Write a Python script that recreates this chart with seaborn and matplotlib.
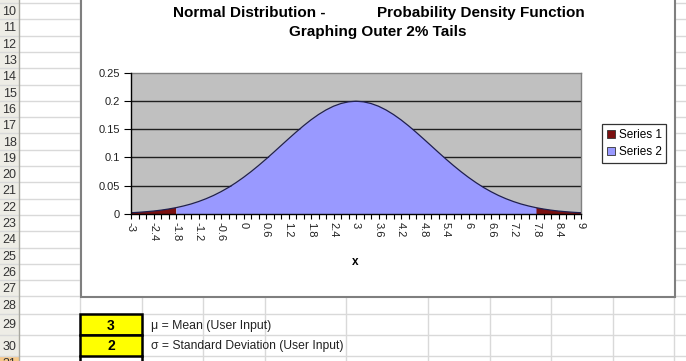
import matplotlib
matplotlib.use("Agg")
import matplotlib.pyplot as plt
import numpy as np
import pandas as pd
import seaborn as sns
from matplotlib.patches import Rectangle, Patch

# --- data ---
x_vals = [-3.0, -2.8, -2.6, -2.4, -2.2, -2.0, -1.8, -1.6, -1.4, -1.2, -1.0,
          -0.8, -0.6, -0.4, -0.2, 0.0, 0.2, 0.4, 0.6, 0.8, 1.0,
          1.2, 1.4, 1.6, 1.8, 2.0, 2.2, 2.4, 2.6, 2.8, 3.0,
          3.2, 3.4, 3.6, 3.8, 4.0, 4.2, 4.4, 4.6, 4.8, 5.0,
          5.2, 5.4, 5.6, 5.8, 6.0, 6.2, 6.4, 6.6, 6.8, 7.0,
          7.2, 7.4, 7.6, 7.8, 8.0, 8.2, 8.4, 8.6, 8.8, 9.0]
density = [0.0022, 0.0030, 0.0040, 0.0052, 0.0068, 0.0088, 0.0112, 0.0142, 0.0177, 0.0220, 0.0270,
           0.0328, 0.0395, 0.0470, 0.0555, 0.0648, 0.0749, 0.0857, 0.0971, 0.1089, 0.1210,
           0.1330, 0.1448, 0.1561, 0.1666, 0.1760, 0.1841, 0.1907, 0.1955, 0.1985, 0.1995,
           0.1985, 0.1955, 0.1907, 0.1841, 0.1760, 0.1666, 0.1561, 0.1448, 0.1330, 0.1210,
           0.1089, 0.0971, 0.0857, 0.0749, 0.0648, 0.0555, 0.0470, 0.0395, 0.0328, 0.0270,
           0.0220, 0.0177, 0.0142, 0.0112, 0.0088, 0.0068, 0.0052, 0.0040, 0.0030, 0.0022]
tail_low = -1.8
tail_high = 7.8
mean_input = 3
sd_input = 2

y_ticks = [0, 0.05, 0.1, 0.15, 0.2, 0.25]
x_tick_labels = [-3, -2.4, -1.8, -1.2, -0.6, 0, 0.6, 1.2, 1.8, 2.4, 3,
                 3.6, 4.2, 4.8, 5.4, 6, 6.6, 7.2, 7.8, 8.4, 9]

df = pd.DataFrame({"x": x_vals, "pdf": density})
df["Series 1"] = df["pdf"].where((df["x"] <= tail_low + 1e-9) | (df["x"] >= tail_high - 1e-9))
df["Series 2"] = df["pdf"].where((df["x"] >= tail_low - 1e-9) & (df["x"] <= tail_high + 1e-9))

plt.rcParams["font.family"] = ["Liberation Sans", "DejaVu Sans"]

W, H = 686, 361
fig = plt.figure(figsize=(W / 100, H / 100), dpi=100)

# --- spreadsheet background, in pixel coordinates ---
bg = fig.add_axes([0, 0, 1, 1])
bg.set_xlim(0, W)
bg.set_ylim(H, 0)
bg.axis("off")

row_edges = [3 + 16.3 * i for i in range(19)] + [314, 335, 356, 375]
grid_c = "#d9d9d9"
bg.add_patch(Rectangle((0, 0), 19, H, facecolor="#eeede6", edgecolor="none", zorder=1))
bg.add_patch(Rectangle((0, row_edges[-2]), 19, 20, facecolor="#f7c98a", edgecolor="none", zorder=1))
bg.plot([19, 19], [0, H], color="#a8a8a0", lw=1, zorder=1.5)
for y in row_edges:
    bg.plot([0, W], [y, y], color=grid_c, lw=1, zorder=1.2)
for xc in [80, 142, 203, 265, 346, 428, 490, 551, 613, 674]:
    bg.plot([xc, xc], [0, H], color=grid_c, lw=1, zorder=1.2)
for i, row in enumerate(range(10, 32)):
    yc = (row_edges[i] + row_edges[i + 1]) / 2
    if row == 31:
        yc = row_edges[i] + 7
    bg.text(9.5, yc + 1, str(row), ha="center", va="center", fontsize=9, color="#333333", zorder=2)

# chart object box
bg.add_patch(Rectangle((81, -5), 594, 302, facecolor="white", edgecolor="#7f7f7f", lw=1.5, zorder=3))

# input cells
for top, bottom, val in [(row_edges[19], row_edges[20], mean_input), (row_edges[20], row_edges[21], sd_input)]:
    bg.add_patch(Rectangle((80, top), 62, bottom - top, facecolor="#ffff00", edgecolor="black", lw=1.8, zorder=3))
    bg.text(111, (top + bottom) / 2 + 1, str(val), ha="center", va="center", fontsize=10,
            fontweight="bold", zorder=4)
bg.plot([80, 80], [row_edges[21], H], color="black", lw=1.8, zorder=3)
bg.plot([142, 142], [row_edges[21], H], color="black", lw=1.8, zorder=3)
bg.text(151, (row_edges[19] + row_edges[20]) / 2 + 1, "μ = Mean (User Input)", ha="left", va="center",
        fontsize=8.8, color="#222222", zorder=4)
bg.text(151, (row_edges[20] + row_edges[21]) / 2 + 1, "σ = Standard Deviation (User Input)", ha="left",
        va="center", fontsize=8.7, color="#222222", zorder=4)

# titles
bg.text(173, 13, "Normal Distribution -", ha="left", va="center", fontsize=11, fontweight="bold", zorder=4)
bg.text(585, 13, "Probability Density Function", ha="right", va="center", fontsize=11,
        fontweight="bold", zorder=4)
bg.text(378, 32, "Graphing Outer 2% Tails", ha="center", va="center", fontsize=11,
        fontweight="bold", zorder=4)

# --- the chart itself ---
left, right, top, bottom = 131, 581, 72.7, 214
ax = fig.add_axes([left / W, 1 - bottom / H, (right - left) / W, (bottom - top) / H], zorder=5)
ax.set_facecolor("#c0c0c0")

tail_color = "#7b1010"
mid_color = "#9999ff"
ax.fill_between(df["x"], 0, df["Series 1"], color=tail_color, lw=0, zorder=2)
ax.fill_between(df["x"], 0, df["Series 2"], color=mid_color, lw=0, zorder=3)
sns.lineplot(data=df, x="x", y="pdf", ax=ax, color="#1f1f4f", lw=0.9, zorder=4)

ax.set_xlim(-3, 9)
ax.set_ylim(0, 0.25)
ax.set_yticks(y_ticks)
ax.set_yticklabels([f"{v:g}" for v in y_ticks], fontsize=8, color="#222222")
for v in y_ticks[1:-1]:
    ax.axhline(v, color="#202020", lw=1, zorder=1)

ax.set_xticks(x_tick_labels)
ax.set_xticklabels([f"{v:g}" for v in x_tick_labels], fontsize=8, rotation=-90, va="top", ha="center",
                   color="#222222")
ax.set_xticks(x_vals, minor=True)
ax.tick_params(axis="x", which="both", direction="out", length=3.5, width=0.8, pad=2)
ax.tick_params(axis="y", direction="out", length=5, width=0.8, pad=3)

for side in ["top", "right"]:
    ax.spines[side].set_color("#808080")
    ax.spines[side].set_linewidth(1)
for side in ["left", "bottom"]:
    ax.spines[side].set_color("black")
    ax.spines[side].set_linewidth(1)
    ax.spines[side].set_zorder(6)

ax.set_xlabel("x", fontsize=8.5, fontweight="bold")
ax.xaxis.set_label_coords((355 - left) / (right - left), -(256 - bottom) / (bottom - top))
ax.set_ylabel("")

handles = [Patch(facecolor=tail_color, edgecolor="#333333", lw=0.6),
           Patch(facecolor=mid_color, edgecolor="#333333", lw=0.6)]
leg = ax.legend(handles, ["Series 1", "Series 2"], loc="center left",
                bbox_to_anchor=(602 / W, 1 - 143.5 / H), bbox_transform=fig.transFigure,
                fontsize=8.5, frameon=True, fancybox=False, handlelength=0.7, handleheight=0.7,
                handletextpad=0.3, borderpad=0.4, labelspacing=0.4, borderaxespad=0)
leg.get_frame().set_edgecolor("black")
leg.get_frame().set_linewidth(0.9)

fig.savefig("out.png", dpi=100)
